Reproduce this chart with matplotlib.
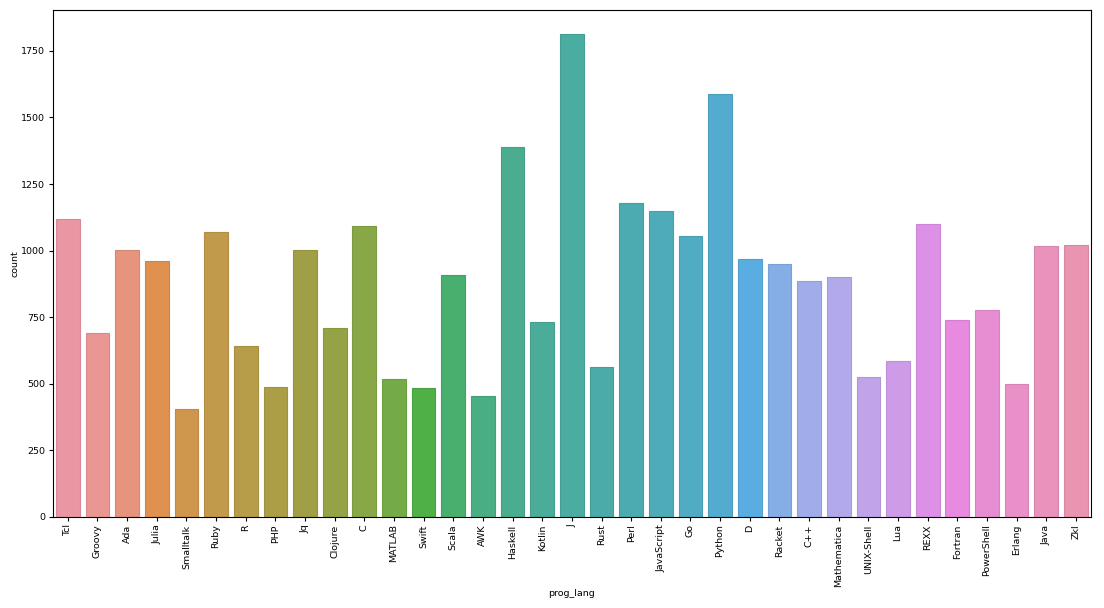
import matplotlib
matplotlib.use("Agg")
import matplotlib.pyplot as plt
import seaborn as sns

prog_lang = [
    "Tcl", "Groovy", "Ada", "Julia", "Smalltalk", "Ruby", "R", "PHP", "Jq",
    "Clojure", "C", "MATLAB", "Swift", "Scala", "AWK", "Haskell", "Kotlin",
    "J", "Rust", "Perl", "JavaScript", "Go", "Python", "D", "Racket", "C++",
    "Mathematica", "UNIX-Shell", "Lua", "REXX", "Fortran", "PowerShell",
    "Erlang", "Java", "Zkl",
]
counts = [
    1118, 692, 1001, 960, 406, 1069, 640, 489, 1001,
    711, 1091, 516, 482, 907, 455, 1389, 730,
    1814, 561, 1178, 1148, 1054, 1588, 967, 948, 884,
    899, 527, 587, 1099, 741, 775,
    497, 1016, 1020,
]

palette = sns.husl_palette(len(prog_lang), l=0.70)

fig = plt.figure(figsize=(11.04, 6.08), dpi=100)
ax = fig.add_axes([0.048, 0.150, 0.940, 0.834])
sns.barplot(x=prog_lang, y=counts, hue=prog_lang, palette=palette,
            saturation=0.75, legend=False, ax=ax)
# thin outline a touch darker than the fill
for bar in ax.patches:
    r, g, b, _ = bar.get_facecolor()
    bar.set_edgecolor((r * 0.92, g * 0.92, b * 0.92))
    bar.set_linewidth(0.8)

ax.set_xlabel("prog_lang", fontsize=6.8, labelpad=1.8)
ax.set_ylabel("count", fontsize=6.8, labelpad=1.4)
ax.tick_params(axis="both", labelsize=6.8, length=3, pad=2.5)
ax.tick_params(axis="x", labelrotation=90)
fig.savefig("out.png", dpi=100)
